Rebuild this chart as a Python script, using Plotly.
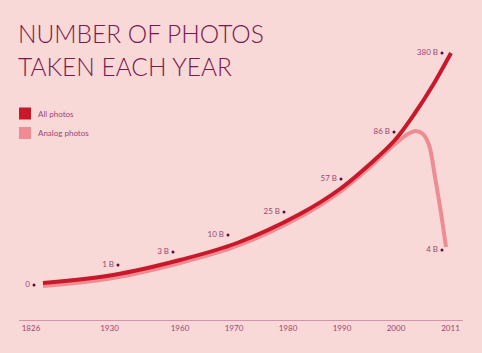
import plotly.graph_objects as go

# ---- data (positions; x in axis units, y = visual height above axis) ----
year_labels = ["1826", "1930", "1960", "1970", "1980", "1990", "2000", "2011"]
year_pos = [31, 109.5, 180, 234, 288, 342, 396, 450.5]

all_x = [43, 113, 180, 237, 300, 340, 370, 395, 415, 433, 451]
all_h = [37, 45, 60, 77, 106, 131, 156, 180, 207, 235, 267]

analog_x = [43, 113, 180, 237, 300, 340, 370, 395, 408, 416, 423, 429, 435, 441, 446]
analog_h = [34, 42, 57, 74, 103, 128, 153, 176, 186, 189, 186, 175, 143, 107, 73]

point_text = ["0", "1 B", "3 B", "10 B", "25 B", "57 B", "86 B", "380 B", "4 B"]
point_x = [34, 118, 173, 228, 284, 341, 394, 442, 442]
point_h = [35, 55, 68, 85, 108, 141, 188, 267, 70]

title_lines = ["NUMBER OF PHOTOS", "TAKEN EACH YEAR"]
legend_names = ["All photos", "Analog photos"]

# ---- style ----
BG = "#f9d9d7"
DARK = "#c8182a"
LIGHT = "#ef8b93"
TEXT = "#7a1850"
SMALL = "#9c4474"
DOT = "#5e0b35"
FONT = "Lato"
LABEL_GAP = 4
X0, X1 = 19, 463

fig = go.Figure()
fig.add_trace(go.Scatter(x=analog_x, y=analog_h, mode="lines",
                         line=dict(color=LIGHT, width=4, shape="spline"),
                         hoverinfo="skip", showlegend=False))
fig.add_trace(go.Scatter(x=all_x, y=all_h, mode="lines",
                         line=dict(color=DARK, width=4, shape="spline"),
                         hoverinfo="skip", showlegend=False))
fig.add_trace(go.Scatter(x=point_x, y=point_h, mode="markers",
                         marker=dict(color=DOT, size=3),
                         hoverinfo="skip", showlegend=False))
fig.add_trace(go.Scatter(x=[v - LABEL_GAP for v in point_x], y=point_h, mode="text",
                         text=point_text, textposition="middle left",
                         textfont=dict(family=FONT, size=8, color=SMALL),
                         hoverinfo="skip", showlegend=False))

annotations = []
for i, t in enumerate(title_lines):
    annotations.append(dict(text=t, x=(16 - X0) / (X1 - X0), y=[287, 254][i] / 320,
                            xref="paper", yref="paper",
                            xanchor="left", yanchor="middle", showarrow=False,
                            font=dict(family=FONT, size=24.5, color=TEXT, weight=300)))
shapes = []
for i, (name, col) in enumerate(zip(legend_names, [DARK, LIGHT])):
    yc = [206.5, 187][i]
    shapes.append(dict(type="rect", xref="x", yref="y", x0=18, x1=31,
                       y0=yc - 6, y1=yc + 6, fillcolor=col, line=dict(width=0)))
    annotations.append(dict(text=name, x=36, y=yc, xref="x", yref="y",
                            xanchor="left", yanchor="middle", showarrow=False,
                            font=dict(family=FONT, size=8, color=SMALL)))

fig.update_layout(
    width=482, height=353,
    margin=dict(l=X0, r=482 - X1, t=0, b=33),
    paper_bgcolor=BG, plot_bgcolor=BG,
    annotations=annotations, shapes=shapes,
    xaxis=dict(range=[X0, X1], tickvals=year_pos, ticktext=year_labels,
               showline=True, linecolor="#d98fb0", linewidth=1,
               ticks="", showgrid=False, zeroline=False,
               tickfont=dict(family=FONT, size=8, color=SMALL), fixedrange=True),
    yaxis=dict(range=[0, 320], visible=False, fixedrange=True),
)
fig.write_html("out.html")
